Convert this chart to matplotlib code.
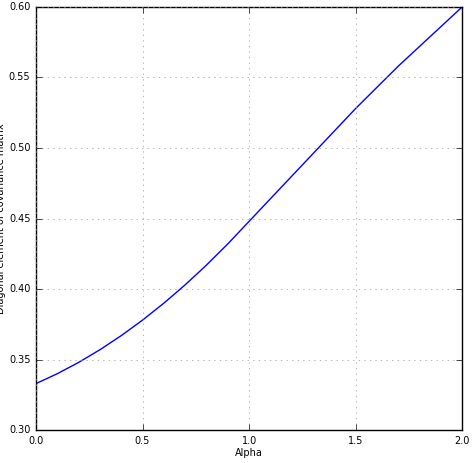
import matplotlib
matplotlib.use('Agg')
import matplotlib.pyplot as plt

plt.style.use('classic')

alpha = [0.0, 0.1, 0.2, 0.3, 0.4, 0.5, 0.6, 0.7, 0.8, 0.9, 1.0,
         1.1, 1.2, 1.3, 1.4, 1.5, 1.6, 1.7, 1.8, 1.9, 2.0]
diag = [0.333, 0.340, 0.348, 0.357, 0.367, 0.378, 0.390, 0.403, 0.417, 0.432, 0.448,
        0.464, 0.480, 0.496, 0.512, 0.528, 0.543, 0.558, 0.572, 0.586, 0.600]

fig = plt.figure(figsize=(4.74, 4.63), dpi=100, facecolor='white')
ax = fig.add_axes([0.076, 0.071, 0.899, 0.914])
ax.plot(alpha, diag, 'b-', lw=1)
ax.set_xlim(0, 2)
ax.set_ylim(0.3, 0.6)
ax.set_xticks([0.0, 0.5, 1.0, 1.5, 2.0])
ax.set_yticks([0.30, 0.35, 0.40, 0.45, 0.50, 0.55, 0.60])
ax.grid(True, color='0.6', ls=':')
ax.tick_params(labelsize=7)
ax.set_xlabel('Alpha', fontsize=7, labelpad=2)
ax.set_ylabel('Diagonal element of covariance matrix', fontsize=7, labelpad=2)
fig.savefig('out.png', dpi=100, facecolor='white')
